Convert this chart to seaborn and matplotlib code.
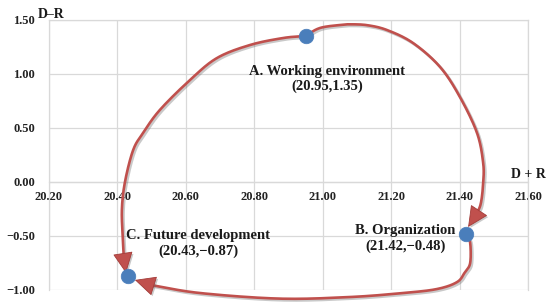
import numpy as np
import pandas as pd
import matplotlib
matplotlib.use("Agg")
import matplotlib.pyplot as plt
import seaborn as sns
from matplotlib.patches import FancyArrowPatch
import matplotlib.patheffects as pe

# ---- data ----
factors = ["A. Working environment", "B. Organization", "C. Future development"]
d_plus_r = [20.95, 21.42, 20.43]
d_minus_r = [1.35, -0.48, -0.87]
x_ticks = [20.20, 20.40, 20.60, 20.80, 21.00, 21.20, 21.40, 21.60]
y_ticks = [-1.00, -0.50, 0.00, 0.50, 1.00, 1.50]

df = pd.DataFrame({"factor": factors, "DR_sum": d_plus_r, "DR_diff": d_minus_r})

sns.set_theme(style="white")
plt.rcParams["font.family"] = ["Liberation Serif", "DejaVu Serif"]
plt.rcParams["font.weight"] = "bold"
plt.rcParams["axes.unicode_minus"] = True

fig = plt.figure(figsize=(5.5, 3.08), dpi=100)
ax = fig.add_axes([49 / 550, 18 / 308, 479 / 550, 270 / 308])

grid_c = "#d9d9d9"
ax.set_xlim(x_ticks[0], x_ticks[-1])
ax.set_ylim(y_ticks[0], y_ticks[-1])
ax.set_xticks(x_ticks)
ax.set_yticks(y_ticks)
ax.set_xticklabels([f"{v:.2f}" for v in x_ticks])
ax.set_yticklabels([f"{v:.2f}".replace("-", "\u2212") for v in y_ticks])
ax.grid(True, color=grid_c, lw=0.9)
ax.set_axisbelow(True)
for s in ax.spines.values():
    s.set_color(grid_c)
    s.set_linewidth(0.9)
ax.spines["bottom"].set_position(("data", 0))
ax.tick_params(axis="x", length=0, labelsize=9, pad=6.5)
ax.tick_params(axis="y", length=0, labelsize=9, pad=10)
for lab in ax.get_xticklabels() + ax.get_yticklabels():
    lab.set_fontweight("bold")
    lab.set_color("#222222")


# ---- curved guide arrows (annotation paths in data space) ----
def smooth(pts, n=25):
    p = np.asarray(pts, dtype=float)
    p = np.vstack([p[0] * 2 - p[1], p, p[-1] * 2 - p[-2]])
    out = []
    t = np.linspace(0, 1, n, endpoint=False)[:, None]
    for i in range(1, len(p) - 2):
        p0, p1, p2, p3 = p[i - 1], p[i], p[i + 1], p[i + 2]
        seg = 0.5 * ((2 * p1) + (-p0 + p2) * t + (2 * p0 - 5 * p1 + 4 * p2 - p3) * t ** 2
                     + (-p0 + 3 * p1 - 3 * p2 + p3) * t ** 3)
        out.append(seg)
    out.append(p[-2][None, :])
    return np.vstack(out)


# each path: waypoints ending at the arrowhead base; then the arrowhead tip
path_right = [(20.948, 1.352), (20.992, 1.426), (21.051, 1.454), (21.080, 1.460),
              (21.130, 1.452), (21.188, 1.407), (21.264, 1.287), (21.343, 1.065),
              (21.401, 0.787), (21.451, 0.454), (21.469, 0.176), (21.469, -0.009),
              (21.462, -0.200), (21.448, -0.306)]
tip_right = (21.425, -0.417)
path_left = [(20.948, 1.352), (20.884, 1.333), (20.788, 1.269), (20.691, 1.148),
             (20.612, 0.944), (20.524, 0.667), (20.475, 0.454), (20.446, 0.296),
             (20.422, 0.0), (20.413, -0.259), (20.416, -0.537), (20.419, -0.722)]
tip_left = (20.425, -0.843)
path_bottom = [(21.420, -0.48), (21.431, -0.565), (21.431, -0.75), (21.416, -0.833),
               (21.393, -0.926), (21.334, -0.991), (21.235, -1.028), (21.08, -1.065),
               (20.875, -1.080), (20.641, -1.028), (20.498, -0.954)]
tip_bottom = (20.451, -0.907)

red = "#c0504d"
shadow_line = [pe.SimpleLineShadow(offset=(1.2, -1.2), shadow_color="0.4", alpha=0.35),
               pe.Normal()]
shadow_patch = [pe.SimplePatchShadow(offset=(1.2, -1.2), shadow_rgbFace="0.4", alpha=0.35),
                pe.Normal()]
for pts, tip in ((path_right, tip_right), (path_left, tip_left), (path_bottom, tip_bottom)):
    verts = smooth(pts)
    ax.plot(verts[:, 0], verts[:, 1], color=red, lw=1.9, solid_capstyle="round",
            clip_on=False, zorder=3, path_effects=shadow_line)
    head = FancyArrowPatch(posA=tuple(pts[-1]), posB=tip,
                           arrowstyle="-|>,head_length=1.35,head_width=0.65",
                           mutation_scale=10, facecolor=red, edgecolor="#a33c39",
                           lw=0.6, shrinkA=0, shrinkB=0, clip_on=False, zorder=3,
                           path_effects=shadow_patch)
    ax.add_patch(head)

# ---- points ----
sns.scatterplot(data=df, x="DR_sum", y="DR_diff", s=110, color="#4a7ebb",
                edgecolor="#4a7ebb", linewidth=0.5, zorder=5, ax=ax, legend=False,
                clip_on=False)
ax.set_xlabel("")
ax.set_ylabel("")

# ---- labels ----
label_pos = [(21.013, 0.954), (21.242, -0.523), (20.636, -0.569)]
for f, xv, yv, (lx, ly) in zip(factors, d_plus_r, d_minus_r, label_pos):
    txt = f"{f}\n({xv:.2f},{yv:.2f})".replace("-", "\u2212")
    ax.text(lx, ly, txt, ha="center", va="center", fontsize=10.5,
            fontweight="bold", color="#1a1a1a", linespacing=1.2, zorder=6)

ax.text(21.6, 0.074, "D + R", ha="center", va="center", fontsize=10,
        fontweight="bold", color="#1a1a1a", clip_on=False)
ax.text(20.205, 1.55, "D\u2013R", ha="center", va="center", fontsize=10,
        fontweight="bold", color="#1a1a1a", clip_on=False)

fig.savefig("out.png", dpi=100)
